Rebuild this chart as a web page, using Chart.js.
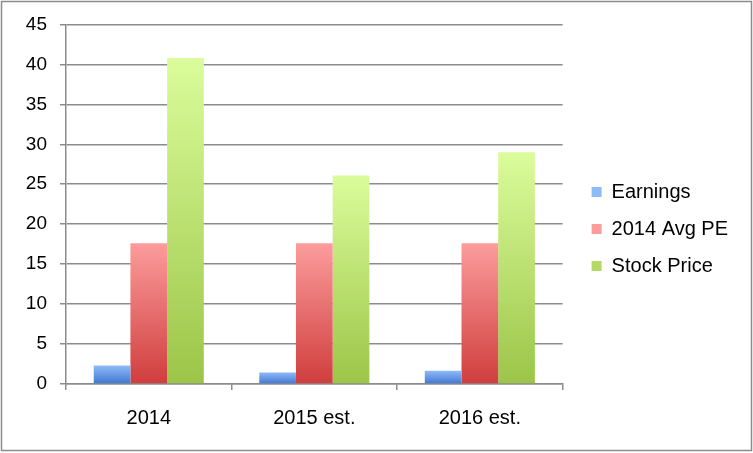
<!DOCTYPE html>
<html>
<head>
<meta charset="utf-8">
<script src="https://cdn.jsdelivr.net/npm/chart.js@4"></script>
<style>
  body { margin: 0; background: #fff; }
  #wrap { width: 753px; height: 453px; position: relative; }
</style>
</head>
<body>
<div id="wrap"><canvas id="myChart"></canvas></div>
<script>
var jahre = ["2014", "2015 est.", "2016 est."];
var earnings = [2.3, 1.45, 1.65];
var avgPE = [17.6, 17.6, 17.6];
var stockPrice = [40.8, 26.1, 29.0];
var yTicks = [0, 5, 10, 15, 20, 25, 30, 35, 40, 45];

// Verlauf pro Balken, von oben (hell) nach unten (dunkel)
function verlauf(oben, unten, mitte) {
  return function (c) {
    var chart = c.chart;
    if (c.type !== "data" || !chart.chartArea) return mitte;
    var y = chart.scales.y;
    var g = chart.ctx.createLinearGradient(0, y.getPixelForValue(c.raw), 0, y.getPixelForValue(0));
    g.addColorStop(0, oben);
    g.addColorStop(1, unten);
    return g;
  };
}

var rahmen = {
  id: "rahmen",
  afterDraw: function (chart) {
    var ctx = chart.ctx;
    ctx.save();
    ctx.strokeStyle = "#8c8c8c";
    ctx.lineWidth = 1.5;
    ctx.strokeRect(1.5, 1.5, 750, 449);
    ctx.restore();
  },
};

Chart.defaults.font.family = "'Liberation Sans', Arial, sans-serif";
Chart.defaults.font.size = 19;
Chart.defaults.color = "#000";

new Chart("myChart", {
  type: "bar",
  data: {
    labels: jahre,
    datasets: [
      {
        label: "Earnings",
        data: earnings,
        backgroundColor: verlauf("#8fbaf8", "#3f76d0", "#5a8fe4"),
      },
      {
        label: "2014 Avg PE",
        data: avgPE,
        backgroundColor: verlauf("#fc9c9c", "#d03d3d", "#e65e5e"),
      },
      {
        label: "Stock Price",
        data: stockPrice,
        backgroundColor: verlauf("#dbfc9b", "#9cc548", "#b8dc70"),
      },
    ],
  },
  options: {
    responsive: true,
    maintainAspectRatio: false,
    animation: false,
    categoryPercentage: 0.665,
    barPercentage: 1.0,
    layout: { padding: { top: 13, left: 26, right: 15, bottom: 8 } },
    plugins: {
      legend: {
        position: "right",
        maxWidth: 220,
        labels: { boxWidth: 10, boxHeight: 10, padding: 17, font: { size: 20 } },
      },
      tooltip: { enabled: false },
    },
    scales: {
      x: {
        grid: {
          drawOnChartArea: false,
          tickLength: 6,
          color: "#8c8c8c",
          lineWidth: 1.5,
        },
        border: { color: "#8c8c8c", width: 1.5 },
        ticks: { padding: 16, font: { size: 20 } },
        afterFit: function (s) { s.height = 61; },
      },
      y: {
        min: 0,
        max: 45,
        afterBuildTicks: function (s) {
          s.ticks = yTicks.map(function (v) { return { value: v }; });
        },
        grid: { color: "#8c8c8c", lineWidth: 1.5, tickLength: 6 },
        border: { color: "#8c8c8c", width: 1.5 },
        ticks: { padding: 13 },
        afterFit: function (s) { s.width = 40; },
      },
      luecke: {
        type: "linear",
        position: "right",
        display: true,
        grid: { display: false },
        border: { display: false },
        ticks: { display: false },
        afterFit: function (s) { s.width = 12; },
      },
    },
  },
  plugins: [rahmen],
});
</script>
</body>
</html>
